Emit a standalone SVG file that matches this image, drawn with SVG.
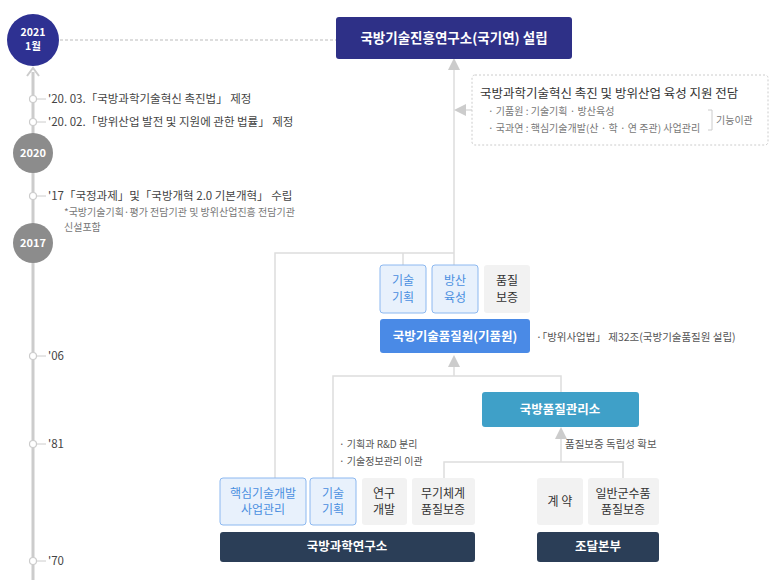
<svg xmlns="http://www.w3.org/2000/svg" width="773" height="580" viewBox="0 0 773 580">
<style>
text{font-family:"Noto Sans CJK KR","Noto Sans",sans-serif}
.t{font-size:11.5px;fill:#444}
.s{font-size:10px;fill:#777}
.w{font-size:12.5px;fill:#fff;font-weight:bold;text-anchor:middle}
.lb{fill:#e8f1fc;stroke:#8cb8f0;stroke-width:1}
.lbt{font-size:12px;fill:#4a8fe0;text-anchor:middle}
.gb{fill:#f2f2f2}
.gbt{font-size:12px;fill:#333;text-anchor:middle}
.c{stroke:#ddd;stroke-width:1.5;fill:none}
.tk{fill:#fff;stroke:#ccc;stroke-width:1.2}
</style>
<defs><marker id="a" markerWidth="8" markerHeight="8" refX="4" refY="4" orient="auto"><path d="M0,0L8,4L0,8z" fill="#ccc"/></marker></defs>
<g id="timeline">
<line x1="33" y1="72" x2="33" y2="580" stroke="#ccc" stroke-width="3"/>
<path d="M27,76L33,68L39,76" stroke="#ccc" stroke-width="2" fill="none"/>
<line x1="60" y1="40" x2="336" y2="40" stroke="#bbb" stroke-dasharray="3,2"/>
<circle cx="33" cy="40" r="26" fill="#2e3192"/>
<text x="33" y="36" class="w" style="font-size:10.5px">2021</text>
<text x="33" y="50" class="w" style="font-size:10.5px">1월</text>
<circle cx="33" cy="153" r="20" fill="#8c8c8c"/>
<text x="33" y="157" class="w" style="font-size:11px">2020</text>
<circle cx="33" cy="243" r="20" fill="#8c8c8c"/>
<text x="33" y="247" class="w" style="font-size:11px">2017</text>
<g stroke="#ccc"><line x1="33" y1="99" x2="46" y2="99"/><line x1="33" y1="122" x2="46" y2="122"/><line x1="33" y1="196" x2="46" y2="196"/><line x1="33" y1="356" x2="46" y2="356"/><line x1="33" y1="444" x2="46" y2="444"/><line x1="33" y1="561" x2="46" y2="561"/></g>
<circle cx="33" cy="99" r="3.5" class="tk"/><circle cx="33" cy="122" r="3.5" class="tk"/><circle cx="33" cy="196" r="3.5" class="tk"/><circle cx="33" cy="356" r="3.5" class="tk"/><circle cx="33" cy="444" r="3.5" class="tk"/><circle cx="33" cy="561" r="3.5" class="tk"/>
<text x="48" y="103" class="t">'20. 03.「국방과학기술혁신 촉진법」 제정</text>
<text x="48" y="126" class="t">'20. 02.「방위산업 발전 및 지원에 관한 법률」 제정</text>
<text x="48" y="200" class="t">'17「국정과제」및「국방개혁 2.0 기본개혁」 수립</text>
<text x="64" y="216" class="s">*국방기술기획·평가 전담기관 및 방위산업진흥 전담기관</text>
<text x="64" y="231" class="s">신설포함</text>
<text x="48" y="360" class="t">'06</text>
<text x="48" y="448" class="t">'81</text>
<text x="48" y="565" class="t">'70</text>
</g>
<g id="connectors">
<line x1="454" y1="265" x2="454" y2="64" class="c" marker-end="url(#a)"/>
<line x1="472" y1="110" x2="460" y2="110" class="c" marker-end="url(#a)"/>
<polyline points="275,478 275,253 454,253" class="c"/>
<line x1="403" y1="253" x2="403" y2="265" class="c"/>
<line x1="454" y1="376" x2="454" y2="361" class="c" marker-end="url(#a)"/>
<polyline points="333,478 333,376 561,376 561,392" class="c"/>
<line x1="561" y1="462" x2="561" y2="433" class="c" marker-end="url(#a)"/>
<polyline points="444,478 444,462 623,462 623,478" class="c"/>
</g>
<g id="n-kriet"><rect x="336" y="17" width="236" height="42" rx="3" fill="#2e3087"/><text x="454" y="43" class="w" style="font-size:13.5px">국방기술진흥연구소(국기연) 설립</text></g>
<g id="n-info">
<rect x="472" y="75" width="296" height="70" rx="3" fill="#fff" stroke="#ccc" stroke-dasharray="2,2"/>
<text x="480" y="98" style="font-size:12.5px;fill:#333">국방과학기술혁신 촉진 및 방위산업 육성 지원 전담</text>
<text x="488" y="115" class="s">· 기품원 : 기술기획 · 방산육성</text>
<text x="488" y="132" class="s">· 국과연 : 핵심기술개발(산 · 학 · 연 주관) 사업관리</text>
<path d="M708,110H712V130H708" stroke="#ccc" fill="none"/>
<text x="716" y="124" class="s">기능이관</text>
</g>
<g id="n-dtaq-1"><rect x="380" y="265" width="46" height="48" rx="3" class="lb"/><text x="403" y="285" class="lbt">기술</text><text x="403" y="302" class="lbt">기획</text></g>
<g id="n-dtaq-2"><rect x="432" y="265" width="46" height="48" rx="3" class="lb"/><text x="455" y="285" class="lbt">방산</text><text x="455" y="302" class="lbt">육성</text></g>
<g id="n-dtaq-3"><rect x="484" y="265" width="46" height="48" rx="3" class="gb"/><text x="507" y="285" class="gbt">품질</text><text x="507" y="302" class="gbt">보증</text></g>
<g id="n-dtaq"><rect x="380" y="319" width="150" height="34" rx="3" fill="#4a8ae6"/><text x="455" y="341" class="w">국방기술품질원(기품원)</text>
<text x="536" y="341" class="s" style="font-size:10.5px;fill:#555">·「방위사업법」 제32조(국방기술품질원 설립)</text></g>
<g id="n-dqaa"><rect x="482" y="392" width="157" height="35" rx="3" fill="#3fa0c8"/><text x="560" y="414" class="w">국방품질관리소</text></g>
<text x="565" y="448" class="s" style="font-size:10.5px;fill:#555">품질보증 독립성 확보</text>
<text x="339" y="448" class="s" style="font-size:10px;fill:#555">· 기획과 R&amp;D 분리</text>
<text x="339" y="465" class="s" style="font-size:10px;fill:#555">· 기술정보관리 이관</text>
<g id="n-add-1"><rect x="220" y="478" width="86" height="47" rx="3" class="lb"/><text x="263" y="498" class="lbt">핵심기술개발</text><text x="263" y="514" class="lbt">사업관리</text></g>
<g id="n-add-2"><rect x="310" y="478" width="46" height="47" rx="3" class="lb"/><text x="333" y="498" class="lbt">기술</text><text x="333" y="514" class="lbt">기획</text></g>
<g id="n-add-3"><rect x="362" y="478" width="45" height="47" rx="3" class="gb"/><text x="384" y="498" class="gbt">연구</text><text x="384" y="514" class="gbt">개발</text></g>
<g id="n-add-4"><rect x="412" y="478" width="63" height="47" rx="3" class="gb"/><text x="443" y="498" class="gbt">무기체계</text><text x="443" y="514" class="gbt">품질보증</text></g>
<g id="n-proc-1"><rect x="537" y="478" width="46" height="47" rx="3" class="gb"/><text x="560" y="506" class="gbt">계 약</text></g>
<g id="n-proc-2"><rect x="588" y="478" width="71" height="47" rx="3" class="gb"/><text x="623" y="498" class="gbt">일반군수품</text><text x="623" y="514" class="gbt">품질보증</text></g>
<g id="n-add"><rect x="220" y="532" width="255" height="30" rx="3" fill="#2b3e57"/><text x="347" y="551" class="w">국방과학연구소</text></g>
<g id="n-proc"><rect x="537" y="532" width="122" height="30" rx="3" fill="#2b3e57"/><text x="598" y="551" class="w">조달본부</text></g>
</svg>
